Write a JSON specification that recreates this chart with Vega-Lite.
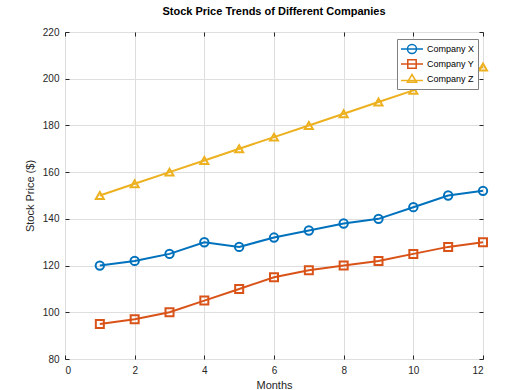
{
  "$schema": "https://vega.github.io/schema/vega-lite/v6.json",
  "width": 418,
  "height": 327,
  "autosize": "none",
  "padding": {"left": 65, "top": 32, "right": 35, "bottom": 31},
  "background": "white",
  "title": {"text": "Stock Price Trends of Different Companies", "font": "Liberation Sans", "fontSize": 11, "fontWeight": "bold", "color": "#000000", "offset": 10, "anchor": "middle"},
  "config": {
    "font": "Liberation Sans",
    "view": {"stroke": "#262626", "strokeWidth": 1},
    "axis": {"labelFont": "Liberation Sans", "labelFontSize": 10, "labelColor": "#262626", "titleFont": "Liberation Sans", "titleFontSize": 11, "titleFontWeight": "normal", "titleColor": "#262626", "tickColor": "#262626", "tickSize": -4, "labelPadding": 10, "domain": false, "gridColor": "#dedede", "gridWidth": 1}
  },
  "data": {"values": [
    {"month": 1, "price": 120, "company": "Company X"},
    {"month": 2, "price": 122, "company": "Company X"},
    {"month": 3, "price": 125, "company": "Company X"},
    {"month": 4, "price": 130, "company": "Company X"},
    {"month": 5, "price": 128, "company": "Company X"},
    {"month": 6, "price": 132, "company": "Company X"},
    {"month": 7, "price": 135, "company": "Company X"},
    {"month": 8, "price": 138, "company": "Company X"},
    {"month": 9, "price": 140, "company": "Company X"},
    {"month": 10, "price": 145, "company": "Company X"},
    {"month": 11, "price": 150, "company": "Company X"},
    {"month": 12, "price": 152, "company": "Company X"},
    {"month": 1, "price": 95, "company": "Company Y"},
    {"month": 2, "price": 97, "company": "Company Y"},
    {"month": 3, "price": 100, "company": "Company Y"},
    {"month": 4, "price": 105, "company": "Company Y"},
    {"month": 5, "price": 110, "company": "Company Y"},
    {"month": 6, "price": 115, "company": "Company Y"},
    {"month": 7, "price": 118, "company": "Company Y"},
    {"month": 8, "price": 120, "company": "Company Y"},
    {"month": 9, "price": 122, "company": "Company Y"},
    {"month": 10, "price": 125, "company": "Company Y"},
    {"month": 11, "price": 128, "company": "Company Y"},
    {"month": 12, "price": 130, "company": "Company Y"},
    {"month": 1, "price": 150, "company": "Company Z"},
    {"month": 2, "price": 155, "company": "Company Z"},
    {"month": 3, "price": 160, "company": "Company Z"},
    {"month": 4, "price": 165, "company": "Company Z"},
    {"month": 5, "price": 170, "company": "Company Z"},
    {"month": 6, "price": 175, "company": "Company Z"},
    {"month": 7, "price": 180, "company": "Company Z"},
    {"month": 8, "price": 185, "company": "Company Z"},
    {"month": 9, "price": 190, "company": "Company Z"},
    {"month": 10, "price": 195, "company": "Company Z"},
    {"month": 11, "price": 200, "company": "Company Z"},
    {"month": 12, "price": 205, "company": "Company Z"}
  ]},
  "resolve": {"axis": {"x": "independent", "y": "independent"}},
  "layer": [
    {
      "mark": {"type": "line", "strokeWidth": 2},
      "encoding": {
        "x": {"field": "month", "type": "quantitative", "scale": {"domain": [0, 12], "nice": false}, "axis": {"values": [0, 2, 4, 6, 8, 10, 12], "title": "Months", "titlePadding": 4}},
        "y": {"field": "price", "type": "quantitative", "scale": {"domain": [80, 220], "nice": false, "zero": false}, "axis": {"values": [80, 100, 120, 140, 160, 180, 200, 220], "title": "Stock Price ($)", "titlePadding": 7}},
        "color": {"field": "company", "type": "nominal", "title": null, "scale": {"domain": ["Company X", "Company Y", "Company Z"], "range": ["#0072BD", "#D95319", "#EDB120"]}}
      }
    },
    {
      "layer": [
        {"transform": [{"filter": "datum.company === 'Company X'"}], "mark": {"type": "point", "shape": "circle", "filled": false, "size": 70, "strokeWidth": 2, "opacity": 1}},
        {"transform": [{"filter": "datum.company === 'Company Y'"}], "mark": {"type": "point", "shape": "square", "filled": false, "size": 64, "strokeWidth": 2, "opacity": 1}},
        {"transform": [{"filter": "datum.company === 'Company Z'"}], "mark": {"type": "point", "shape": "triangle-up", "filled": false, "size": 64, "strokeWidth": 2, "opacity": 1}}
      ],
      "encoding": {
        "x": {"field": "month", "type": "quantitative", "axis": {"orient": "top", "values": [0, 2, 4, 6, 8, 10, 12], "labels": false, "title": null, "grid": false}},
        "y": {"field": "price", "type": "quantitative", "axis": {"orient": "right", "values": [80, 100, 120, 140, 160, 180, 200, 220], "labels": false, "title": null, "grid": false}},
        "color": {"field": "company", "type": "nominal", "title": null}
      }
    },
    {
      "transform": [{"filter": "datum.month > 100"}],
      "mark": {"type": "point", "filled": false, "strokeWidth": 1.5, "opacity": 1},
      "encoding": {
        "x": {"field": "month", "type": "quantitative", "axis": null},
        "y": {"field": "price", "type": "quantitative", "axis": null},
        "color": {"field": "company", "type": "nominal", "title": null},
        "shape": {"field": "company", "type": "nominal", "title": null,
          "scale": {"domain": ["Company X", "Company Y", "Company Z"], "range": [
            "M -1 0 L 2.67 0 M 1.58 0 A 0.75 0.75 0 1 1 0.08 0 A 0.75 0.75 0 1 1 1.58 0",
            "M -1 0 L 2.67 0 M 0.13 -0.7 L 1.53 -0.7 L 1.53 0.7 L 0.13 0.7 Z",
            "M -1 0.25 L 2.67 0.25 M 0.83 -0.75 L 1.6 0.55 L 0.06 0.55 Z"]},
          "legend": {
            "orient": "none",
            "legendX": 332,
            "legendY": 7,
            "title": null,
            "labelFont": "Liberation Sans",
            "labelFontSize": 9,
            "labelColor": "#000000",
            "symbolSize": 144,
            "symbolStrokeWidth": 1.5,
            "symbolOpacity": 1,
            "rowPadding": -4,
            "padding": 3,
            "strokeColor": "#808080",
            "fillColor": "white",
            "labelOffset": 13,
            "labelLimit": 200
          }
        }
      }
    }
  ]
}
